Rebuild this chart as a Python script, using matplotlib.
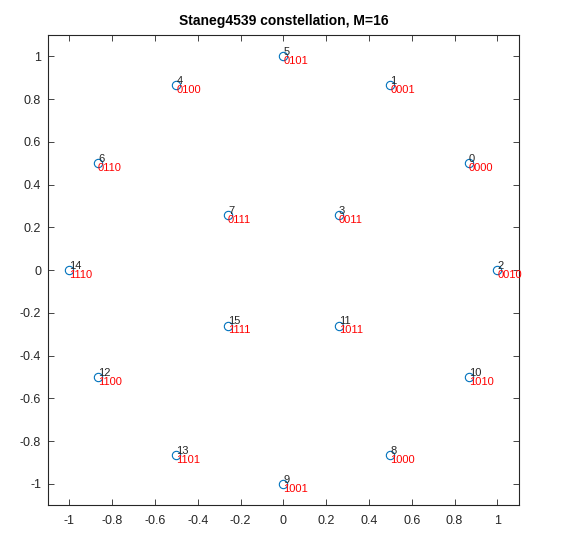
import matplotlib.pyplot as plt

# constellation points
x = [0.866, 0.5, 1.0, 0.259, -0.5, 0.0, -0.866, -0.259,
     0.5, 0.0, 0.866, 0.259, -0.866, -0.5, -1.0, -0.259]
y = [0.5, 0.866, 0.0, 0.259, 0.866, 1.0, 0.5, 0.259,
     -0.866, -1.0, -0.5, -0.259, -0.5, -0.866, 0.0, -0.259]
idx = [str(i) for i in range(16)]
bits = ['0000', '0001', '0010', '0011', '0100', '0101', '0110', '0111',
        '1000', '1001', '1010', '1011', '1100', '1101', '1110', '1111']

plt.rcParams['font.family'] = ['Liberation Sans', 'DejaVu Sans']
fig = plt.figure(figsize=(5.61, 5.48), dpi=100)
ax = fig.add_axes([0.0856, 0.078, 0.839, 0.858])

ax.plot(x, y, 'o', mfc='none', mec='#0072BD', ms=6, mew=0.8)
for xi, yi, n, b in zip(x, y, idx, bits):
    ax.text(xi, yi + 0.02, n, fontsize=8, color='#262626', ha='left', va='center')
    ax.text(xi, yi - 0.022, b, fontsize=8, color='r', ha='left', va='center')

ax.set_xlim(-1.1, 1.1)
ax.set_ylim(-1.1, 1.1)
ticks = [-1, -0.8, -0.6, -0.4, -0.2, 0, 0.2, 0.4, 0.6, 0.8, 1]
labels = ['-1', '-0.8', '-0.6', '-0.4', '-0.2', '0', '0.2', '0.4', '0.6', '0.8', '1']
ax.set_xticks(ticks)
ax.set_xticklabels(labels)
ax.set_yticks(ticks)
ax.set_yticklabels(labels)
ax.tick_params(direction='in', top=True, right=True, labelsize=9, colors='#262626', length=4, width=0.6)
ax.tick_params(axis='x', pad=7)
ax.tick_params(axis='y', pad=5)
for s in ax.spines.values():
    s.set_color('#262626')
    s.set_linewidth(0.8)
ax.set_title('Staneg4539 constellation, M=16', fontsize=10, fontweight='bold', color='k', pad=7)

fig.savefig('out.png', dpi=100)
